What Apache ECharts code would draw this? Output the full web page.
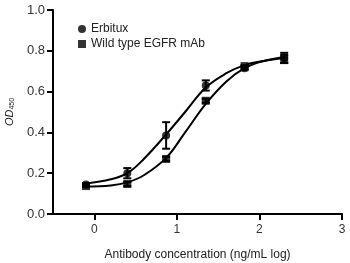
<!DOCTYPE html>
<html><head><meta charset="utf-8">
<script src="https://cdn.jsdelivr.net/npm/echarts@6/dist/echarts.min.js"></script>
<style>html,body{margin:0;padding:0;background:#fff}#c{width:350px;height:263px}</style>
</head><body><div id="c"></div>
<script>
// log concentration of the measured points
const xPoints = [-0.1, 0.4, 0.87, 1.35, 1.82, 2.3];
const erbituxY = [0.145, 0.2, 0.385, 0.63, 0.715, 0.765];
const erbituxErr = [0.005, 0.025, 0.065, 0.025, 0.01, 0.025];
const wildY = [0.137, 0.147, 0.27, 0.555, 0.725, 0.76];
const wildErr = [0.005, 0.01, 0.01, 0.01, 0.005, 0.02];
// fitted curves
const curveX = [-0.1, 0.2, 0.4, 0.6, 0.87, 1.1, 1.35, 1.6, 1.82, 2.05, 2.3];
const erbituxCurve = [0.15, 0.17, 0.2, 0.27, 0.39, 0.5, 0.62, 0.69, 0.73, 0.75, 0.765];
const wildCurve = [0.135, 0.14, 0.155, 0.19, 0.275, 0.4, 0.54, 0.65, 0.715, 0.75, 0.77];
const xTicks = [0, 1, 2, 3];
const yTicks = [0, 0.2, 0.4, 0.6, 0.8, 1.0];
const names = ['Erbitux', 'Wild type EGFR mAb'];

const pair = (xs, ys) => xs.map((x, i) => [x, ys[i]]);
const errData = [];
xPoints.forEach((x, i) => { errData.push([x, erbituxY[i] - erbituxErr[i], erbituxY[i] + erbituxErr[i]]); });
xPoints.forEach((x, i) => { errData.push([x, wildY[i] - wildErr[i], wildY[i] + wildErr[i]]); });

const font = 'Liberation Sans, Arial, sans-serif';
const chart = echarts.init(document.getElementById('c'));
chart.setOption({
  animation: false,
  backgroundColor: '#fff',
  grid: { left: 53, right: 8, top: 10, bottom: 49, containLabel: false, outerBoundsMode: 'none' },
  legend: {
    data: [{ name: names[0], icon: 'circle' }, { name: names[1], icon: 'rect' }],
    orient: 'vertical', left: 73, top: 18, itemWidth: 8, itemHeight: 8, itemGap: 3,
    textStyle: { fontFamily: font, fontSize: 12, color: '#222' }
  },
  xAxis: {
    type: 'value', min: -0.5, max: 3,
    name: 'Antibody concentration (ng/mL log)', nameLocation: 'middle', nameGap: 35,
    nameTextStyle: { fontFamily: font, fontSize: 12, color: '#222' },
    splitLine: { show: false },
    axisLine: { onZero: false, lineStyle: { color: '#000', width: 2 } },
    axisTick: { customValues: xTicks, length: 6, lineStyle: { color: '#000', width: 2 } },
    axisLabel: { customValues: xTicks, fontFamily: font, fontSize: 12, color: '#333', margin: 10 }
  },
  yAxis: {
    type: 'value', min: 0, max: 1,
    name: '{i|OD}{s|450}', nameLocation: 'middle', nameGap: 34,
    nameTextStyle: { rich: {
      i: { fontFamily: font, fontSize: 11, fontStyle: 'italic', color: '#222' },
      s: { fontFamily: font, fontSize: 7, color: '#222', padding: [5, 0, 0, 0] }
    } },
    splitLine: { show: false },
    axisLine: { onZero: false, lineStyle: { color: '#000', width: 2 } },
    axisTick: { customValues: yTicks, length: 6, lineStyle: { color: '#000', width: 2 } },
    axisLabel: { customValues: yTicks, fontFamily: font, fontSize: 13, color: '#333', margin: 8,
      formatter: v => v.toFixed(1) }
  },
  series: [
    { name: names[0] + ' fit', type: 'line', data: pair(curveX, erbituxCurve), smooth: 0.4,
      showSymbol: false, lineStyle: { color: '#000', width: 2 }, silent: true },
    { name: names[1] + ' fit', type: 'line', data: pair(curveX, wildCurve), smooth: 0.4,
      showSymbol: false, lineStyle: { color: '#000', width: 2 }, silent: true },
    { type: 'custom', silent: true, data: errData,
      renderItem: (params, api) => {
        const top = api.coord([api.value(0), api.value(2)]);
        const bot = api.coord([api.value(0), api.value(1)]);
        const w = 4;
        const st = { stroke: '#000', lineWidth: 2 };
        return { type: 'group', children: [
          { type: 'line', shape: { x1: top[0], y1: top[1], x2: bot[0], y2: bot[1] }, style: st },
          { type: 'line', shape: { x1: top[0] - w, y1: top[1], x2: top[0] + w, y2: top[1] }, style: st },
          { type: 'line', shape: { x1: bot[0] - w, y1: bot[1], x2: bot[0] + w, y2: bot[1] }, style: st }
        ] };
      } },
    { name: names[0], type: 'scatter', symbol: 'circle', symbolSize: 8, data: pair(xPoints, erbituxY),
      itemStyle: { color: '#000' }, z: 5 },
    { name: names[1], type: 'scatter', symbol: 'rect', symbolSize: 8, data: pair(xPoints, wildY),
      itemStyle: { color: '#000' }, z: 5 }
  ]
});
</script></body></html>
